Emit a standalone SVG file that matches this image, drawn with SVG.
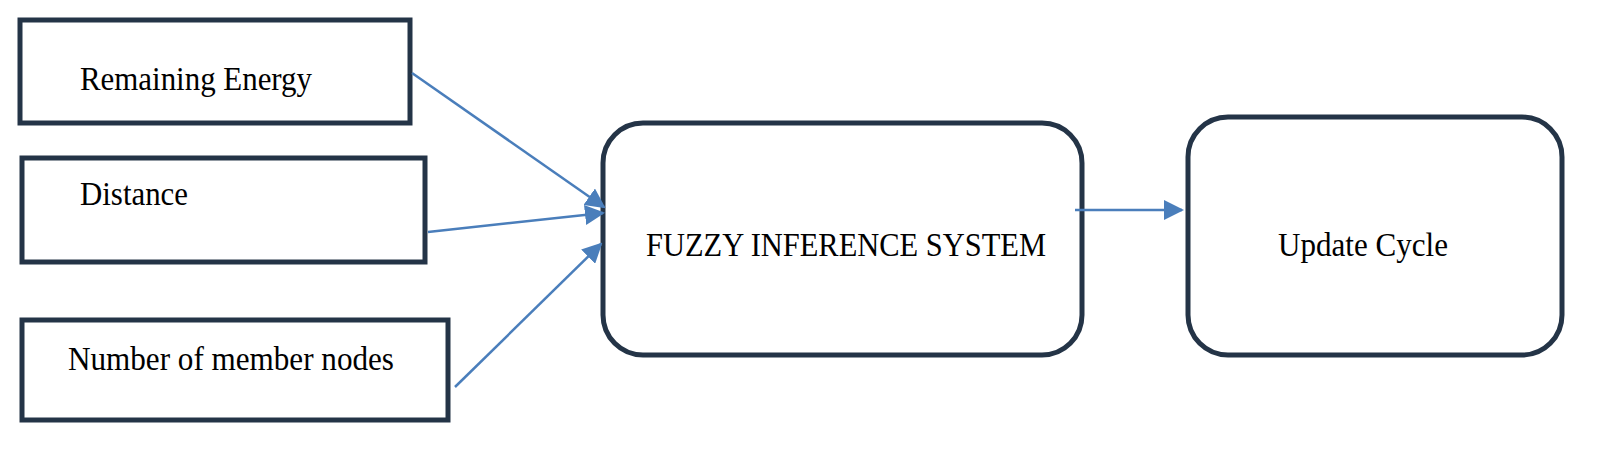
<svg xmlns="http://www.w3.org/2000/svg" width="1616" height="452" viewBox="0 0 1616 452">
<defs>
<style>
.b{fill:#fff;stroke:#243447;stroke-width:5}
.t{font-family:"Liberation Serif",serif;font-size:34px;fill:#000}
.c{stroke:#4a7ebb;stroke-width:2.5;fill:none;marker-end:url(#a)}
</style>
<marker id="a" viewBox="0 0 10 10" refX="9" refY="5" markerWidth="20" markerHeight="20" orient="auto" markerUnits="userSpaceOnUse"><path d="M0,0L10,5L0,10z" fill="#4a7ebb"/></marker>
</defs>
<rect width="1616" height="452" fill="#fff"/>
<g id="n1"><rect class="b" x="20" y="20" width="390" height="103"/><text class="t" x="80" y="90" textLength="232" lengthAdjust="spacingAndGlyphs">Remaining Energy</text></g>
<g id="n2"><rect class="b" x="22" y="158" width="403" height="104"/><text class="t" x="80" y="205" textLength="108" lengthAdjust="spacingAndGlyphs">Distance</text></g>
<g id="n3"><rect class="b" x="22" y="320" width="426" height="100"/><text class="t" x="68" y="370" textLength="326" lengthAdjust="spacingAndGlyphs">Number of member nodes</text></g>
<g id="n4"><rect class="b" x="603" y="123" width="479" height="232" rx="40"/><text class="t" x="646" y="256" textLength="400" lengthAdjust="spacingAndGlyphs">FUZZY INFERENCE SYSTEM</text></g>
<g id="n5"><rect class="b" x="1188" y="117" width="374" height="238" rx="40"/><text class="t" x="1278" y="256" textLength="170" lengthAdjust="spacingAndGlyphs">Update Cycle</text></g>
<g id="connectors">
<line class="c" x1="412" y1="73" x2="604" y2="207"/>
<line class="c" x1="428" y1="232" x2="603" y2="213"/>
<line class="c" x1="455" y1="387" x2="601" y2="244"/>
<line class="c" x1="1075" y1="210" x2="1182" y2="210"/>
</g>
</svg>
